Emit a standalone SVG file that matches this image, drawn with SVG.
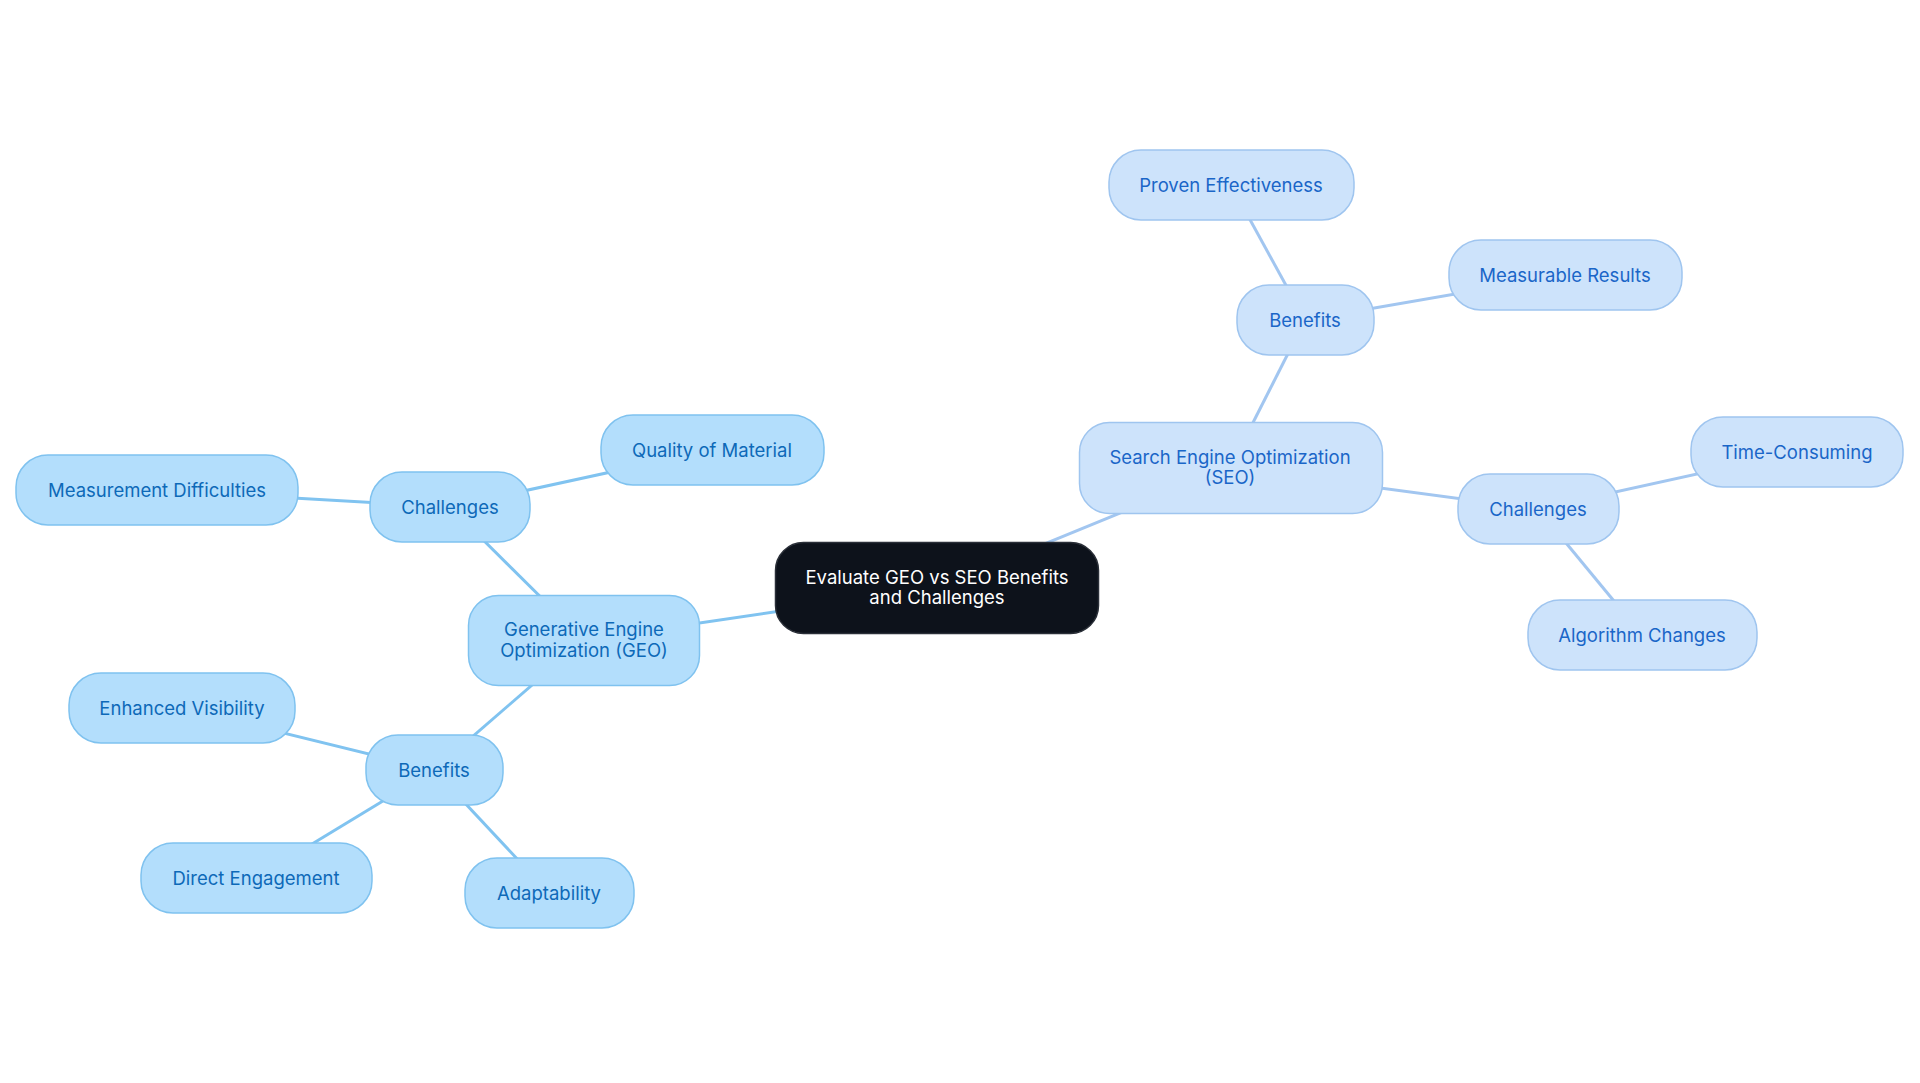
<svg xmlns="http://www.w3.org/2000/svg" width="1920" height="1083" viewBox="0 0 1920 1083">
<style>
.geo rect{fill:#b3defc;stroke:#7fc2ef;stroke-width:1.5}
.geo text{fill:#0d69b8}
.seo rect{fill:#cde3fb;stroke:#9fc5ef;stroke-width:1.5}
.seo text{fill:#1a66c8}
text{font-family:Inter,"Noto Sans",sans-serif;font-size:18.5px;text-anchor:middle;dominant-baseline:central}
.root rect{fill:#0d121b;stroke:#2a2f38;stroke-width:1.5}
.root text{fill:#ffffff}
.eg{stroke:#80c3f0;stroke-width:3;fill:none}
.es{stroke:#a2c6f0;stroke-width:3;fill:none}
</style>
<rect width="1920" height="1083" fill="#ffffff"/>
<g id="connectors">
<line class="es" x1="937" y1="588" x2="1230" y2="468"/>
<line class="eg" x1="937" y1="588" x2="584" y2="640"/>
<line class="es" x1="1230" y1="468" x2="1305" y2="320"/>
<line class="es" x1="1305" y1="320" x2="1231" y2="185"/>
<line class="es" x1="1305" y1="320" x2="1565" y2="275"/>
<line class="es" x1="1230" y1="468" x2="1538" y2="509"/>
<line class="es" x1="1538" y1="509" x2="1797" y2="452"/>
<line class="es" x1="1538" y1="509" x2="1642" y2="635"/>
<line class="eg" x1="584" y1="640" x2="450" y2="507"/>
<line class="eg" x1="450" y1="507" x2="712" y2="450"/>
<line class="eg" x1="450" y1="507" x2="157" y2="490"/>
<line class="eg" x1="584" y1="640" x2="434" y2="770"/>
<line class="eg" x1="434" y1="770" x2="182" y2="708"/>
<line class="eg" x1="434" y1="770" x2="256" y2="878"/>
<line class="eg" x1="434" y1="770" x2="549" y2="893"/>
</g>
<g id="root" class="root"><rect x="775.5" y="542.5" width="323" height="91" rx="28"/><text x="937" y="577">Evaluate GEO vs SEO Benefits</text><text x="937" y="597">and Challenges</text></g>
<g id="seo" class="seo"><rect x="1079.5" y="422.5" width="303" height="91" rx="30"/><text x="1230" y="457">Search Engine Optimization</text><text x="1230" y="477">(SEO)</text></g>
<g id="geo" class="geo"><rect x="468.5" y="595.5" width="231" height="90" rx="30"/><text x="584" y="629">Generative Engine</text><text x="584" y="650">Optimization (GEO)</text></g>
<g id="geo-challenges" class="geo"><rect x="370" y="472" width="160" height="70" rx="32"/><text x="450" y="507">Challenges</text></g>
<g id="quality" class="geo"><rect x="601" y="415" width="223" height="70" rx="32"/><text x="712" y="450">Quality of Material</text></g>
<g id="measurement" class="geo"><rect x="16" y="455" width="282" height="70" rx="32"/><text x="157" y="490">Measurement Difficulties</text></g>
<g id="geo-benefits" class="geo"><rect x="366" y="735" width="137" height="70" rx="32"/><text x="434" y="770">Benefits</text></g>
<g id="visibility" class="geo"><rect x="69" y="673" width="226" height="70" rx="32"/><text x="182" y="708">Enhanced Visibility</text></g>
<g id="engagement" class="geo"><rect x="141" y="843" width="231" height="70" rx="32"/><text x="256" y="878">Direct Engagement</text></g>
<g id="adaptability" class="geo"><rect x="465" y="858" width="169" height="70" rx="32"/><text x="549" y="893">Adaptability</text></g>
<g id="seo-benefits" class="seo"><rect x="1237" y="285" width="137" height="70" rx="32"/><text x="1305" y="320">Benefits</text></g>
<g id="proven" class="seo"><rect x="1109" y="150" width="245" height="70" rx="32"/><text x="1231" y="185">Proven Effectiveness</text></g>
<g id="measurable" class="seo"><rect x="1449" y="240" width="233" height="70" rx="32"/><text x="1565" y="275">Measurable Results</text></g>
<g id="seo-challenges" class="seo"><rect x="1458" y="474" width="161" height="70" rx="32"/><text x="1538" y="509">Challenges</text></g>
<g id="time" class="seo"><rect x="1691" y="417" width="212" height="70" rx="32"/><text x="1797" y="452">Time-Consuming</text></g>
<g id="algorithm" class="seo"><rect x="1528" y="600" width="229" height="70" rx="32"/><text x="1642" y="635">Algorithm Changes</text></g>
</svg>
